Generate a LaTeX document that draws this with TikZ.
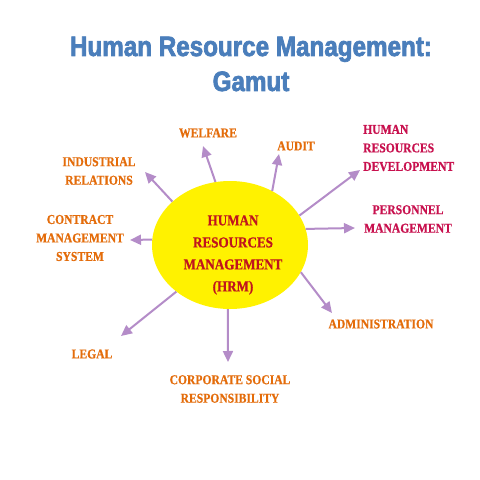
\documentclass[tikz,border=0pt]{standalone}
\usepackage{fontspec}
\setmainfont{Liberation Serif}
\newfontfamily\titlefont[FakeStretch=0.865,FakeBold=2.5]{Liberation Sans}
\newfontfamily\topicfont[FakeStretch=0.86,FakeBold=0.6]{Liberation Serif}
\usetikzlibrary{shapes.geometric,arrows.meta}
\definecolor{titleblue}{HTML}{4A7EBB}
\definecolor{topicorange}{HTML}{E46C0A}
\definecolor{topiccrimson}{HTML}{C8104E}
\definecolor{hubred}{HTML}{C0141E}
\definecolor{linkpurple}{HTML}{B48CC8}
\tikzstyle{heading}=[font=\titlefont\bfseries\fontsize{28}{35}\selectfont, text=titleblue, align=center, inner sep=0pt]
\tikzstyle{hub}=[ellipse, fill=yellow, minimum width=156pt, minimum height=128pt, inner sep=0pt]
\tikzstyle{hubtext}=[font=\topicfont\bfseries\fontsize{15.2}{22}\selectfont, text=hubred, align=center, inner sep=0pt]
\tikzstyle{topic}=[font=\topicfont\bfseries\fontsize{13.5}{18.5}\selectfont, text=topicorange, align=center, inner sep=0pt]
\tikzstyle{topicred}=[topic, text=topiccrimson]
\tikzstyle{link}=[-{Triangle[length=11pt,width=10pt]}, line width=2pt, draw=linkpurple]

\begin{document}
\begin{tikzpicture}[x=1pt, y=-1pt]
    \useasboundingbox[fill=white] (0,0) rectangle (480,480);
    \node[heading] (title) at (251,64) {Human Resource Management:\\Gamut};
    \node[hub] (hrm) at (230,245) {};
    \node[hubtext] (hrmtext) at (233,255) {HUMAN\\RESOURCES\\MANAGEMENT\\(HRM)};
    \node[topic] (welfare) at (208,133) {WELFARE};
    \node[topic] (audit) at (296,146) {AUDIT};
    \node[topicred, anchor=west, align=left] (hrd) at (363,148) {HUMAN\\RESOURCES\\DEVELOPMENT};
    \node[topicred] (personnel) at (408,219) {PERSONNEL\\MANAGEMENT};
    \node[topic] (admin) at (381,324) {ADMINISTRATION};
    \node[topic] (csr) at (230,389) {CORPORATE SOCIAL\\RESPONSIBILITY};
    \node[topic] (legal) at (92,354) {LEGAL};
    \node[topic] (contract) at (80,238) {CONTRACT\\MANAGEMENT\\SYSTEM};
    \node[topic] (industrial) at (99,171) {INDUSTRIAL\\RELATIONS};
    \coordinate (welfaretip) at (203,146);
    \coordinate (audittip) at (279,154);
    \coordinate (hrdtip) at (360,170);
    \coordinate (personneltip) at (355,228);
    \coordinate (admintip) at (332,313);
    \coordinate (csrtip) at (228,362);
    \coordinate (legaltip) at (121,336);
    \coordinate (contracttip) at (130,240);
    \coordinate (industrialtip) at (145,172);
    \draw[link] (hrm.103) -- (welfaretip);
    \draw[link] (hrm.52) -- (audittip);
    \draw[link] (hrm.23) -- (hrdtip);
    \draw[link] (hrm.12) -- (personneltip);
    \draw[link] (hrm.-21) -- (admintip);
    \draw[link] (hrm.-92) -- (csrtip);
    \draw[link] (hrm.221) -- (legaltip);
    \draw[link] (hrm.176) -- (contracttip);
    \draw[link] (hrm.143) -- (industrialtip);
\end{tikzpicture}
\end{document}
